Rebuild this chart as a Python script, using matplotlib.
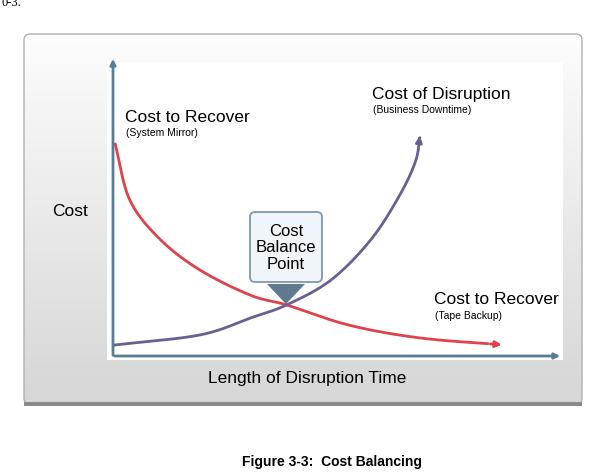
import numpy as np
import matplotlib.pyplot as plt
from matplotlib.colors import LinearSegmentedColormap
from matplotlib.patches import FancyBboxPatch, Rectangle, Polygon

# curves (x: disruption time, y: cost, arbitrary units)
recover_x = [0.05, 0.38, 1.06, 1.96, 3.1, 3.9, 5.3, 6.9, 8.8]
recover_y = [7.6, 5.6, 4.2, 3.1, 2.2, 1.86, 1.14, 0.68, 0.43]
disrupt_x = [0.05, 1.96, 3.1, 3.9, 4.9, 5.8, 6.45, 6.8, 6.9]
disrupt_y = [0.43, 0.79, 1.4, 1.86, 2.75, 4.2, 5.8, 7.0, 7.9]

W, H = 603, 472
fig = plt.figure(figsize=(W / 100, H / 100), dpi=100)
bg = fig.add_axes([0, 0, 1, 1])
bg.set_xlim(0, W)
bg.set_ylim(H, 0)
bg.axis('off')

# outer gray gradient box
grad = np.linspace(1, 0, 256).reshape(-1, 1)
box = FancyBboxPatch((24, 34), 558, 370, boxstyle='round,pad=0,rounding_size=6',
                     fc='none', ec='#b0b0b0', lw=1)
bg.add_patch(box)
im = bg.imshow(grad, cmap=LinearSegmentedColormap.from_list('g', ['#d6d6d6', '#fdfdfd']),
               extent=(24, 582, 404, 34), aspect='auto', zorder=0)
im.set_clip_path(box)
bg.add_patch(Rectangle((24, 402), 558, 4, fc='#8a8a8a', ec='none'))
bg.add_patch(Rectangle((107, 62), 456, 298, fc='white', ec='none', zorder=1))

# axes arrows
ac = '#5a7d96'
bg.annotate('', xy=(113, 56), xytext=(113, 358), zorder=3,
            arrowprops=dict(arrowstyle='-|>', color=ac, lw=2, mutation_scale=8))
bg.annotate('', xy=(563, 356), xytext=(112, 356), zorder=3,
            arrowprops=dict(arrowstyle='-|>', color=ac, lw=2, mutation_scale=8))

ax = fig.add_axes([113 / W, (H - 357) / H, 445 / W, 280 / H])
ax.set_xlim(0, 10)
ax.set_ylim(0, 10)
ax.axis('off')
ax.patch.set_alpha(0)

def smooth(xs, ys, n=25):
    # catmull-rom through the read points
    p = np.column_stack([xs, ys])
    p = np.vstack([2 * p[0] - p[1], p, 2 * p[-1] - p[-2]])
    out = []
    t = np.linspace(0, 1, n, endpoint=False)[:, None]
    for i in range(1, len(p) - 2):
        p0, p1, p2, p3 = p[i - 1], p[i], p[i + 1], p[i + 2]
        out.append(0.5 * (2 * p1 + (-p0 + p2) * t + (2 * p0 - 5 * p1 + 4 * p2 - p3) * t ** 2
                          + (-p0 + 3 * p1 - 3 * p2 + p3) * t ** 3))
    out.append(p[-2][None, :])
    out = np.vstack(out)
    return out[:, 0], out[:, 1]

rx, ry = smooth(recover_x, recover_y)
dx, dy = smooth(disrupt_x, disrupt_y)
ax.plot(rx[:-5], ry[:-5], color='#e0424c', lw=2)
ax.plot(dx[:-5], dy[:-5], color='#6a5f92', lw=2)
ax.annotate('', xy=(rx[-1], ry[-1]), xytext=(rx[-6], ry[-6]),
            arrowprops=dict(arrowstyle='-|>', color='#e0424c', lw=2, mutation_scale=9))
ax.annotate('', xy=(dx[-1], dy[-1]), xytext=(dx[-6], dy[-6]),
            arrowprops=dict(arrowstyle='-|>', color='#6a5f92', lw=2, mutation_scale=9))

# balance point callout
bg.add_patch(FancyBboxPatch((250, 212), 72, 70, boxstyle='round,pad=0,rounding_size=5',
                            fc='#f0f5f9', ec='#7f98aa', lw=1.3, zorder=4))
bg.add_patch(Polygon([(267, 284), (305, 284), (286, 304)], closed=True,
                     fc='#5f7a8e', ec='none', zorder=4))
bg.text(286, 248, 'Cost\nBalance\nPoint', ha='center', va='center', fontsize=12,
        family='Liberation Sans', linespacing=1.15, zorder=5)

f = 'Liberation Sans'
bg.text(125, 117, 'Cost to Recover', fontsize=12.5, family=f, va='center', zorder=5)
bg.text(126, 133, '(System Mirror)', fontsize=7.5, family=f, va='center', zorder=5)
bg.text(372, 94, 'Cost of Disruption', fontsize=12.5, family=f, va='center', zorder=5)
bg.text(373, 110, '(Business Downtime)', fontsize=7.5, family=f, va='center', zorder=5)
bg.text(434, 300, 'Cost to Recover', fontsize=12.5, family=f, va='center', zorder=5)
bg.text(435, 316, '(Tape Backup)', fontsize=7.5, family=f, va='center', zorder=5)
bg.text(70, 211, 'Cost', fontsize=12.5, family=f, ha='center', va='center')
bg.text(307, 378, 'Length of Disruption Time', fontsize=12.5, family=f, ha='center', va='center')
bg.text(332, 462, 'Figure 3-3:  Cost Balancing', fontsize=10, family=f, weight='bold',
        ha='center', va='center')
bg.text(1, 3, '0-3.', fontsize=9, family='Liberation Serif', va='center')

fig.savefig('out.png', dpi=100)
